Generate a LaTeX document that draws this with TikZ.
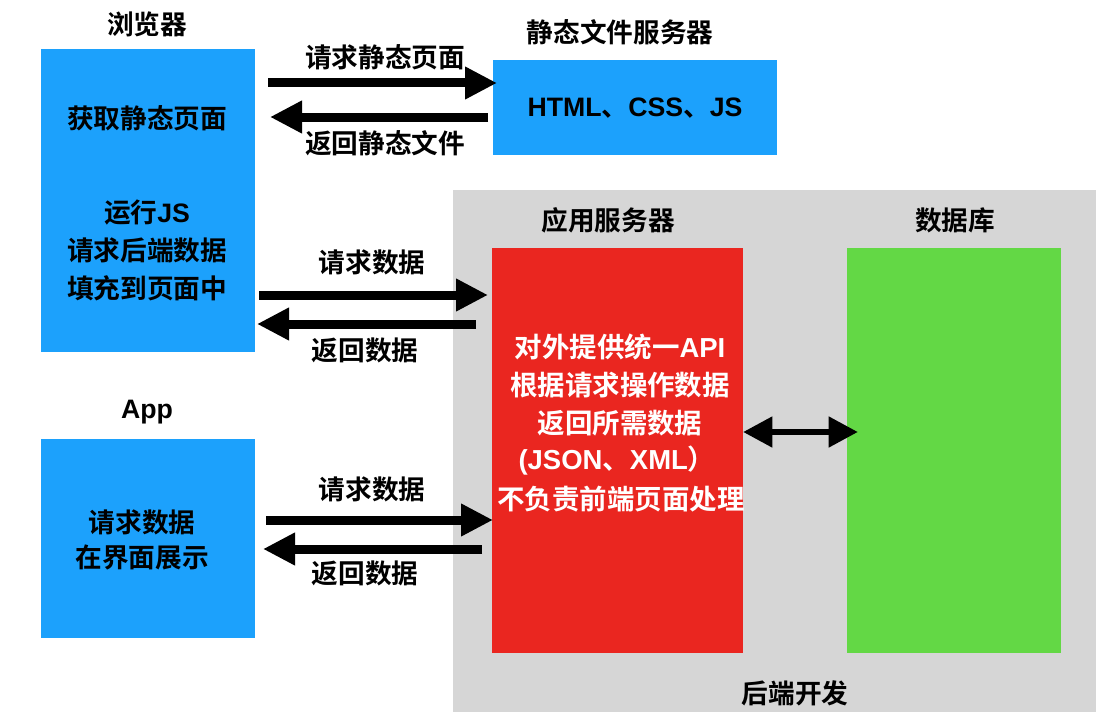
\documentclass[tikz,border=0pt]{standalone}
\usepackage{fontspec}
\setmainfont{Noto Sans CJK SC}[BoldFont={* Bold}]
\newfontfamily\lat{Liberation Sans}
\usetikzlibrary{arrows.meta}
\definecolor{boxblue}{RGB}{28,161,252}
\definecolor{boxred}{RGB}{234,38,32}
\definecolor{boxgreen}{RGB}{99,216,69}
\definecolor{bggray}{RGB}{214,214,214}
\tikzset{
  px/.style={x=0.75pt,y=-0.75pt},
  lbl/.style={font=\fontsize{20}{26}\selectfont\bfseries,inner sep=0pt,align=center},
  wlbl/.style={font=\fontsize{20.6}{26}\selectfont\bfseries,inner sep=0pt,align=center,text=white},
  bigarrow/.style={line width=6.75pt,-{Triangle[length=24pt,width=23pt]}},
  dblarrow/.style={line width=5pt,{Triangle[length=22pt,width=22pt]}-{Triangle[length=22pt,width=22pt]}}
}
\begin{document}
\begin{tikzpicture}[px]
\useasboundingbox (0,0) rectangle (1110,717);
\fill[white] (0,0) rectangle (1110,717);
% backend background
\fill[bggray] (453,190) rectangle (1096,712);
% boxes
\fill[boxblue] (41,49) rectangle (255,352);
\fill[boxblue] (493,60) rectangle (777,155);
\fill[boxblue] (41,439) rectangle (255,638);
\fill[boxred] (492,248) rectangle (743,653);
\fill[boxgreen] (847,248) rectangle (1061,653);
% labels
\node[lbl] (tbrowser) at (147,24) {浏览器};
\node[lbl] (tstatic) at (620,32) {静态文件服务器};
\node[lbl] (tappsrv) at (608,220) {应用服务器};
\node[lbl] (tdb) at (955,220) {数据库};
\node[lbl] (tapp) at (147,412) {{\lat App}};
\node[lbl] (tbackend) at (795,693) {后端开发};
\node[lbl] (b1) at (147,118) {获取静态页面};
\node[lbl] (b2) at (147,213) {运行{\lat JS}};
\node[lbl] (b3) at (147,250) {请求后端数据};
\node[lbl] (b4) at (147,288) {填充到页面中};
\node[lbl] (s1) at (635,108) {{\lat HTML}、{\lat CSS}、{\lat JS}};
\node[lbl] (a1) at (142,522) {请求数据};
\node[lbl] (a2) at (142,557) {在界面展示};
\node[wlbl] (r1) at (620,347) {对外提供统一{\lat API}};
\node[wlbl] (r2) at (620,385) {根据请求操作数据};
\node[wlbl] (r3) at (620,423) {返回所需数据};
\node[wlbl] (r4) at (617,461) {{\lat (JSON}、{\lat XML}）};
\node[wlbl] (r5) at (621,499) {不负责前端页面处理};
% arrow labels
\node[lbl] (l1) at (385,57) {请求静态页面};
\node[lbl] (l2) at (385,143) {返回静态文件};
\node[lbl] (l3) at (372,262) {请求数据};
\node[lbl] (l4) at (365,350) {返回数据};
\node[lbl] (l5) at (372,489) {请求数据};
\node[lbl] (l6) at (365,573) {返回数据};
% arrow endpoints
\coordinate (p1s) at (268,83);  \coordinate (p1e) at (497,83);
\coordinate (p2s) at (488,117); \coordinate (p2e) at (270,117);
\coordinate (p3s) at (259,295); \coordinate (p3e) at (488,295);
\coordinate (p4s) at (476,324); \coordinate (p4e) at (257,324);
\coordinate (p5s) at (266,520); \coordinate (p5e) at (493,520);
\coordinate (p6s) at (482,549); \coordinate (p6e) at (263,549);
\coordinate (d1) at (743,432);  \coordinate (d2) at (858,432);
\draw[bigarrow] (p1s) -- (p1e);
\draw[bigarrow] (p2s) -- (p2e);
\draw[bigarrow] (p3s) -- (p3e);
\draw[bigarrow] (p4s) -- (p4e);
\draw[bigarrow] (p5s) -- (p5e);
\draw[bigarrow] (p6s) -- (p6e);
\draw[dblarrow] (d1) -- (d2);
\end{tikzpicture}
\end{document}
